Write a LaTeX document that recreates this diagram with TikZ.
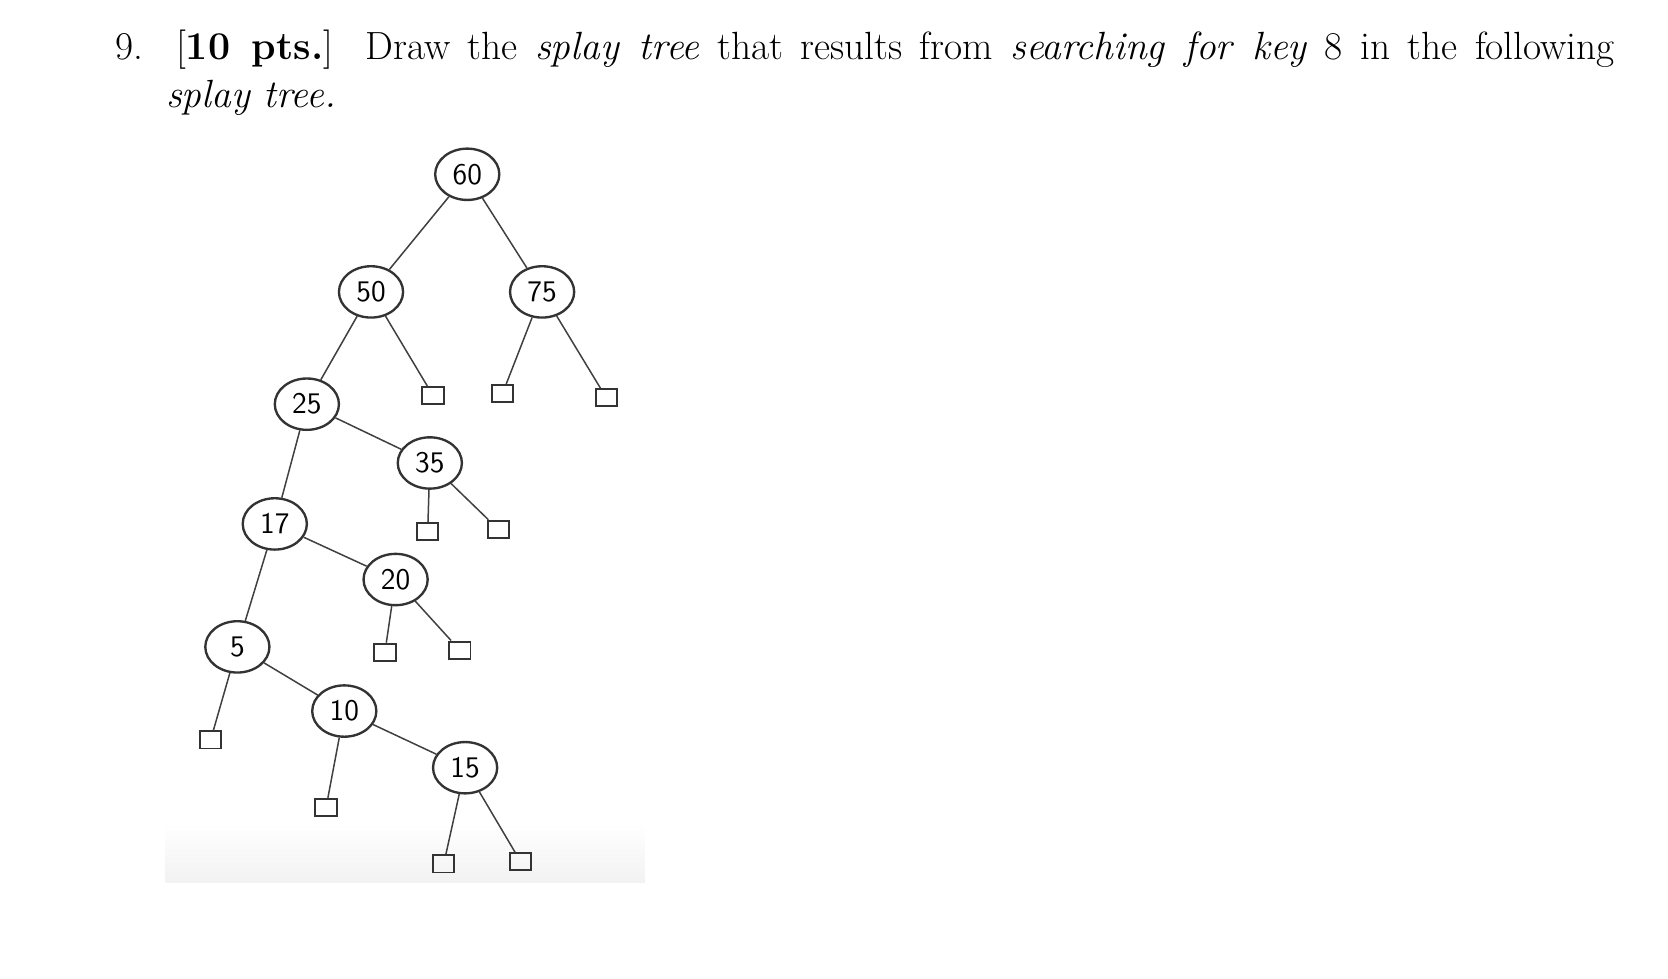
\documentclass[tikz,border=0pt]{standalone}
\usetikzlibrary{shapes.geometric}
\begin{document}
\begin{tikzpicture}[x=0.5pt,y=-0.5pt,
  kn/.style={draw=black!80,line width=1.1pt,ellipse,minimum width=30pt,minimum height=24pt,inner sep=0pt,font=\sffamily\fontsize{14}{14}\selectfont},
  lf/.style={draw=black!80,line width=0.9pt,minimum width=10pt,minimum height=8pt,inner sep=0pt},
  ed/.style={draw=black!75,line width=0.7pt}]
\useasboundingbox (0,0) rectangle (1560,915);
\shade[top color=white,bottom color=black!5] (155,770) rectangle (603,825);
\node[anchor=base west,inner sep=0pt,font=\fontsize{18.4}{22}\selectfont] (l1) at (108,56)
  {\makebox[701pt][s]{9. [\textbf{10 pts.}] Draw the \textit{splay tree} that results from \textit{searching for key} 8 in the following}};
\node[anchor=base west,inner sep=0pt,font=\fontsize{18.4}{22}\selectfont] (l2) at (155,101) {\textit{splay tree.}};
\node[kn] (n60) at (437,163) {60};
\node[kn] (n50) at (347,273) {50};
\node[kn] (n75) at (507,273) {75};
\node[kn] (n25) at (287,378) {25};
\node[kn] (n35) at (402,433) {35};
\node[kn] (n17) at (257,490) {17};
\node[kn] (n20) at (370,542) {20};
\node[kn] (n5) at (222,605) {5};
\node[kn] (n10) at (322,665) {10};
\node[kn] (n15) at (435,718) {15};
\node[lf] (s1) at (405,370) {};
\node[lf] (s2) at (470,368) {};
\node[lf] (s3) at (567,372) {};
\node[lf] (s4) at (400,497) {};
\node[lf] (s5) at (466,495) {};
\node[lf] (s6) at (360,610) {};
\node[lf] (s7) at (430,608) {};
\node[lf] (s8) at (197,692) {};
\node[lf] (s9) at (305,755) {};
\node[lf] (s10) at (415,808) {};
\node[lf] (s11) at (487,806) {};
\path[ed] (n60)--(n50) (n60)--(n75) (n50)--(n25) (n50)--(s1) (n75)--(s2) (n75)--(s3)
  (n25)--(n17) (n25)--(n35) (n35)--(s4) (n35)--(s5) (n17)--(n5) (n17)--(n20)
  (n20)--(s6) (n20)--(s7) (n5)--(s8) (n5)--(n10) (n10)--(s9) (n10)--(n15)
  (n15)--(s10) (n15)--(s11);
\end{tikzpicture}
\end{document}
